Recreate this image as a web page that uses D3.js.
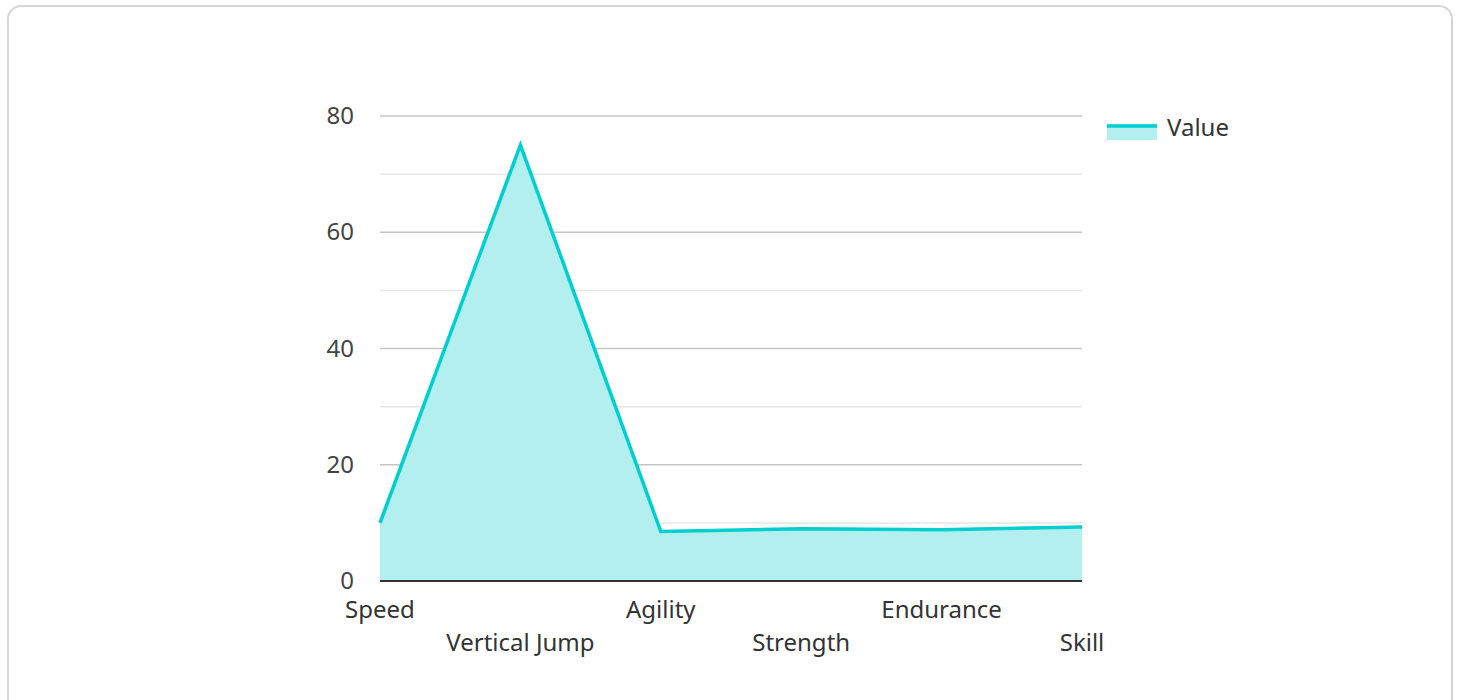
<!DOCTYPE html>
<html>
<head>
<meta charset="utf-8">
<script src="https://cdn.jsdelivr.net/npm/d3@7"></script>
<style>
  html, body { margin: 0; padding: 0; background: #fff; }
  body { width: 1458px; height: 700px; overflow: hidden; font-family: "Noto Sans", sans-serif; }
  .card {
    position: absolute; left: 7px; top: 5px; width: 1446px; height: 720px;
    border: 2px solid #d6d6d6; border-radius: 14px; box-sizing: border-box;
  }
  svg { position: absolute; left: 0; top: 0; }
</style>
</head>
<body>
<div class="card"></div>
<div id="chart"></div>
<script>
// data
var categories = ["Speed", "Vertical Jump", "Agility", "Strength", "Endurance", "Skill"];
var values = [10, 75, 8.5, 9, 8.8, 9.3];
var majorTicks = [0, 20, 40, 60, 80];
var minorTicks = [10, 30, 50, 70];
var seriesName = "Value";

var lineColor = "#00cfcf";
var fillColor = "#b2efee";

var width = 1458, height = 700;
var margin = {left: 380, right: 376, top: 116, bottom: 119};

var svg = d3.select("#chart")
    .append("svg")
    .attr("width", width)
    .attr("height", height);

var x = d3.scalePoint()
    .domain(categories)
    .range([margin.left, width - margin.right]);

var y = d3.scaleLinear()
    .domain([0, 80])
    .range([height - margin.bottom, margin.top]);

var data = categories.map(function(c, i){ return {cat: c, v: values[i]}; });

// minor gridlines
svg.append("g")
  .selectAll("line")
  .data(minorTicks)
  .enter()
    .append("line")
    .attr("x1", margin.left)
    .attr("x2", width - margin.right)
    .attr("y1", function(d){ return y(d); })
    .attr("y2", function(d){ return y(d); })
    .attr("stroke", "#e6e6e6")
    .attr("stroke-width", 1.5);

// major gridlines
svg.append("g")
  .selectAll("line")
  .data(majorTicks.filter(function(d){ return d > 0; }))
  .enter()
    .append("line")
    .attr("x1", margin.left)
    .attr("x2", width - margin.right)
    .attr("y1", function(d){ return y(d); })
    .attr("y2", function(d){ return y(d); })
    .attr("stroke", "#c6c6c6")
    .attr("stroke-width", 1.5);

// area + line
var area = d3.area()
    .x(function(d){ return x(d.cat); })
    .y0(y(0))
    .y1(function(d){ return y(d.v); });

var line = d3.line()
    .x(function(d){ return x(d.cat); })
    .y(function(d){ return y(d.v); });

svg.append("path")
    .datum(data)
    .attr("d", area)
    .attr("fill", fillColor);

svg.append("path")
    .datum(data)
    .attr("d", line)
    .attr("fill", "none")
    .attr("stroke", lineColor)
    .attr("stroke-width", 3.5)
    .attr("stroke-linejoin", "miter");

// x axis baseline
svg.append("line")
    .attr("x1", margin.left)
    .attr("x2", width - margin.right)
    .attr("y1", y(0))
    .attr("y2", y(0))
    .attr("stroke", "#333")
    .attr("stroke-width", 2);

// y tick labels
svg.append("g")
  .selectAll("text")
  .data(majorTicks)
  .enter()
    .append("text")
    .attr("x", margin.left - 26)
    .attr("y", function(d){ return y(d) + 8; })
    .attr("text-anchor", "end")
    .attr("fill", "#444")
    .attr("font-size", 24)
    .text(function(d){ return d; });

// x labels, staggered
svg.append("g")
  .selectAll("text")
  .data(categories)
  .enter()
    .append("text")
    .attr("x", function(d){ return x(d); })
    .attr("y", function(d, i){ return y(0) + (i % 2 === 0 ? 37 : 70); })
    .attr("text-anchor", "middle")
    .attr("fill", "#333")
    .attr("font-size", 24)
    .text(function(d){ return d; });

// legend
var lg = svg.append("g").attr("transform", "translate(1107,124)");
lg.append("rect")
    .attr("x", 0).attr("y", 0)
    .attr("width", 50).attr("height", 16)
    .attr("fill", fillColor);
lg.append("line")
    .attr("x1", 0).attr("x2", 50)
    .attr("y1", 2).attr("y2", 2)
    .attr("stroke", lineColor)
    .attr("stroke-width", 3.5);
lg.append("text")
    .attr("x", 60)
    .attr("y", 12)
    .attr("fill", "#333")
    .attr("font-size", 24)
    .text(seriesName);
</script>
</body>
</html>
